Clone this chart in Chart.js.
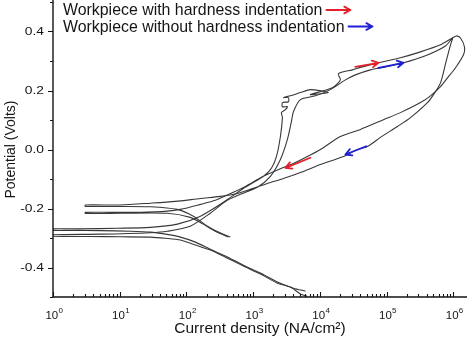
<!DOCTYPE html>
<html>
<head>
<meta charset="utf-8">
<title>Cyclic polarization curves</title>
<script src="https://cdn.jsdelivr.net/npm/chart.js@4.4.1/dist/chart.umd.min.js"></script>
<style>
  html, body { margin: 0; padding: 0; background: #ffffff; }
  #wrap { width: 474px; height: 338px; }
</style>
</head>
<body>
<div id="wrap"><canvas id="chart" width="474" height="338"></canvas></div>
<script>
// Series names
const seriesNames = ['Workpiece with hardness indentation', 'Workpiece without hardness indentation'];

// Workpiece with hardness indentation: current density (NA/cm^2) and potential (V), in scan order
const withCurrent = [
  6064, 4009, 2306, 1282, 713, 383, 228, 136, 81.1, 48.3, 28.8, 14.4, 5.12, 1.82, 1.0,
  1.0, 2.57, 9.2, 28.8, 73.1, 162, 357, 713, 1282, 1811, 2228, 2558, 2741, 2650,
  3041, 3258, 2741, 2741, 3373, 3373, 2838, 3614, 5102, 7207,
  13400, 7207, 15390, 20280, 18920, 30690, 43360, 75340, 161000, 321400, 641000, 1114000,
  1277000, 1466000, 1417000, 1077000, 817000, 641000, 453800, 321400, 161000, 89520, 40460,
  20280, 10180, 6497, 4295, 2838, 1422, 764, 505, 271, 162, 81.1, 51.8, 20.4, 7.23, 3.05,
  3.05, 10.2, 51.8, 114, 179, 271, 425
];
const withPotential = [
  -0.480, -0.470, -0.449, -0.419, -0.392, -0.361, -0.338, -0.314, -0.297, -0.287, -0.280, -0.277, -0.275, -0.274, -0.274,
  -0.269, -0.269, -0.267, -0.264, -0.253, -0.226, -0.179, -0.132, -0.098, -0.068, -0.024, 0.044, 0.108, 0.125,
  0.135, 0.145, 0.145, 0.159, 0.162, 0.176, 0.176, 0.182, 0.193, 0.203,
  0.193, 0.186, 0.209, 0.236, 0.257, 0.270, 0.280, 0.294, 0.311, 0.331, 0.355, 0.385,
  0.378, 0.348, 0.321, 0.277, 0.243, 0.213, 0.182, 0.159, 0.125, 0.101, 0.068,
  0.044, 0.000, -0.024, -0.044, -0.061, -0.091, -0.125, -0.145, -0.172, -0.186, -0.203, -0.209, -0.213, -0.213, -0.213,
  -0.217, -0.216, -0.216, -0.230, -0.253, -0.277, -0.297
];

// Workpiece without hardness indentation
const withoutCurrent = [
  6497, 5102, 3614, 2306, 1282, 713, 383, 228, 136, 81.1, 48.3, 28.8, 10.2, 3.62, 1.0,
  1.0, 5.12, 28.8, 51.8, 114, 228, 383, 643, 1156, 1811, 2558, 3258, 3741, 4009,
  5102, 8570, 14360, 24090, 34040, 57140, 95930, 178600, 381800, 762000, 971000,
  906000, 789000, 641000, 503600, 409200, 227600, 145200, 80720, 51520, 34040, 22480,
  10180, 5102, 2838, 1633, 908, 580, 322, 162, 68.2, 28.8, 10.2, 3.05,
  3.05, 10.2, 28.8, 73.1, 127, 206, 301, 455
];
const withoutPotential = [
  -0.498, -0.490, -0.466, -0.453, -0.422, -0.395, -0.365, -0.341, -0.324, -0.307, -0.301, -0.297, -0.296, -0.295, -0.294,
  -0.289, -0.287, -0.282, -0.277, -0.260, -0.216, -0.176, -0.152, -0.128, -0.091, -0.034, 0.034, 0.095, 0.128,
  0.169, 0.182, 0.203, 0.236, 0.253, 0.270, 0.280, 0.294, 0.318, 0.351, 0.378,
  0.355, 0.304, 0.226, 0.186, 0.159, 0.108, 0.078, 0.041, 0.010, -0.003, -0.024,
  -0.051, -0.078, -0.098, -0.115, -0.135, -0.149, -0.159, -0.166, -0.176, -0.182, -0.188, -0.188,
  -0.193, -0.193, -0.194, -0.203, -0.226, -0.260, -0.280, -0.297
];

// Scan-direction arrows laid on each curve: [from, to] pairs
const arrowWithCurrent = [[34040, 75340], [7207, 3041]];
const arrowWithPotential = [[0.280, 0.294], [-0.028, -0.062]];
const arrowWithoutCurrent = [[75340, 178600], [49500, 24090]];
const arrowWithoutPotential = [[0.277, 0.294], [0.011, -0.017]];

// Axis ticks
const xDecades = [0, 1, 2, 3, 4, 5, 6];
const yTickValues = [-0.4, -0.2, 0.0, 0.2, 0.4];
const yMinorValues = [-0.5, -0.3, -0.1, 0.1, 0.3, 0.5];

const FONT = "'Liberation Sans', Arial, Helvetica, sans-serif";
const INK = '#151515';
const CURVE = '#383838';
const RED = '#e4202b';
const BLUE = '#1f1fd6';

function toPoints(xs, ys) {
  return xs.map((v, i) => ({ x: v, y: ys[i] }));
}

function arrow(ctx, x0, y0, x1, y1, color) {
  const ang = Math.atan2(y1 - y0, x1 - x0);
  const head = 7, spread = 0.5;
  ctx.save();
  ctx.strokeStyle = color;
  ctx.lineWidth = 1.8;
  ctx.lineCap = 'round';
  ctx.lineJoin = 'round';
  ctx.beginPath();
  ctx.moveTo(x0, y0);
  ctx.lineTo(x1, y1);
  ctx.moveTo(x1 - head * Math.cos(ang - spread), y1 - head * Math.sin(ang - spread));
  ctx.lineTo(x1, y1);
  ctx.lineTo(x1 - head * Math.cos(ang + spread), y1 - head * Math.sin(ang + spread));
  ctx.stroke();
  ctx.restore();
}

const decor = {
  id: 'decor',
  afterDatasetsDraw(chart) {
    const { ctx, scales: { x, y } } = chart;
    // arrows on the curves
    const sets = [
      [arrowWithCurrent, arrowWithPotential, RED],
      [arrowWithoutCurrent, arrowWithoutPotential, BLUE]
    ];
    sets.forEach(([ci, pe, col]) => {
      ci.forEach((pair, k) => {
        arrow(ctx,
          x.getPixelForValue(pair[0]), y.getPixelForValue(pe[k][0]),
          x.getPixelForValue(pair[1]), y.getPixelForValue(pe[k][1]), col);
      });
    });
  },
  afterDraw(chart) {
    const { ctx, chartArea: a, scales: { x, y } } = chart;
    ctx.save();
    // axis lines (left and bottom only)
    ctx.strokeStyle = INK;
    ctx.lineWidth = 1.4;
    ctx.beginPath();
    ctx.moveTo(a.left, a.top - 2);
    ctx.lineTo(a.left, a.bottom);
    ctx.lineTo(a.right, a.bottom);
    ctx.stroke();

    // x ticks point inward, minor ticks at 2..9 of each decade
    ctx.lineWidth = 1.1;
    ctx.beginPath();
    xDecades.forEach(d => {
      for (let m = 1; m <= 9; m++) {
        const v = m * Math.pow(10, d);
        if (v > x.max) break;
        const px = Math.round(x.getPixelForValue(v)) + 0.5;
        const len = m === 1 ? 5 : 3;
        ctx.moveTo(px, a.bottom);
        ctx.lineTo(px, a.bottom - len);
      }
    });
    // y ticks point outward
    yTickValues.forEach(v => {
      const py = Math.round(y.getPixelForValue(v)) + 0.5;
      ctx.moveTo(a.left - 5, py);
      ctx.lineTo(a.left, py);
    });
    yMinorValues.forEach(v => {
      const py = Math.round(y.getPixelForValue(v)) + 0.5;
      ctx.moveTo(a.left - 3, py);
      ctx.lineTo(a.left, py);
    });
    ctx.stroke();

    ctx.fillStyle = INK;
    // y tick labels
    ctx.textAlign = 'right';
    ctx.textBaseline = 'middle';
    ctx.font = '11.5px ' + FONT;
    yTickValues.forEach(v => {
      const py = y.getPixelForValue(v);
      ctx.save();
      ctx.translate(a.left - 9, py + 0.5);
      ctx.scale(1.2, 1);
      ctx.fillText(v.toFixed(1), 0, 0);
      ctx.restore();
    });

    // x tick labels: 10 with a raised exponent
    ctx.textAlign = 'left';
    ctx.textBaseline = 'alphabetic';
    xDecades.forEach(d => {
      const px = x.getPixelForValue(Math.pow(10, d));
      ctx.font = '11.5px ' + FONT;
      const wBase = ctx.measureText('10').width;
      ctx.font = '8px ' + FONT;
      const wExp = ctx.measureText(String(d)).width;
      const x0 = px - (wBase + wExp) / 2 + 1;
      ctx.font = '11.5px ' + FONT;
      ctx.fillText('10', x0, 319);
      ctx.font = '8px ' + FONT;
      ctx.fillText(String(d), x0 + wBase + 0.3, 312.5);
    });

    // axis titles
    ctx.textAlign = 'center';
    ctx.font = '15.5px ' + FONT;
    ctx.fillText('Current density (NA/cm\u00B2)', (a.left + a.right) / 2, 332.5);
    ctx.save();
    ctx.translate(14.5, 149.5);
    ctx.rotate(-Math.PI / 2);
    ctx.font = '14px ' + FONT;
    ctx.fillText('Potential (Volts)', 0, 0);
    ctx.restore();

    // legend lines with scan-direction arrows
    ctx.textAlign = 'left';
    ctx.font = '15.9px ' + FONT;
    const legendCols = [RED, BLUE];
    const baselines = [15, 31.5];
    seriesNames.forEach((name, i) => {
      ctx.fillStyle = INK;
      ctx.fillText(name, 63, baselines[i]);
      const w = ctx.measureText(name).width;
      arrow(ctx, 63 + w + 4, baselines[i] - 5, 63 + w + 28, baselines[i] - 5, legendCols[i]);
    });
    ctx.restore();
  }
};

new Chart(document.getElementById('chart'), {
  type: 'scatter',
  data: {
    datasets: [
      {
        label: seriesNames[0],
        data: toPoints(withCurrent, withPotential),
        showLine: true,
        borderColor: CURVE,
        borderWidth: 1.1,
        pointRadius: 0,
        tension: 0.25
      },
      {
        label: seriesNames[1],
        data: toPoints(withoutCurrent, withoutPotential),
        showLine: true,
        borderColor: CURVE,
        borderWidth: 1.1,
        pointRadius: 0,
        tension: 0.25
      }
    ]
  },
  options: {
    responsive: false,
    animation: false,
    devicePixelRatio: 1,
    layout: { padding: { top: 2, right: 7, left: 0, bottom: 0 } },
    plugins: { legend: { display: false }, tooltip: { enabled: false } },
    scales: {
      x: {
        type: 'logarithmic',
        min: 1,
        max: 1.6e6,
        grid: { display: false },
        border: { display: false },
        ticks: { display: false },
        afterFit(s) { s.height = 41; }
      },
      y: {
        type: 'linear',
        min: -0.5,
        max: 0.5,
        grid: { display: false },
        border: { display: false },
        ticks: { display: false },
        afterFit(s) { s.width = 53; }
      }
    }
  },
  plugins: [decor]
});
</script>
</body>
</html>
